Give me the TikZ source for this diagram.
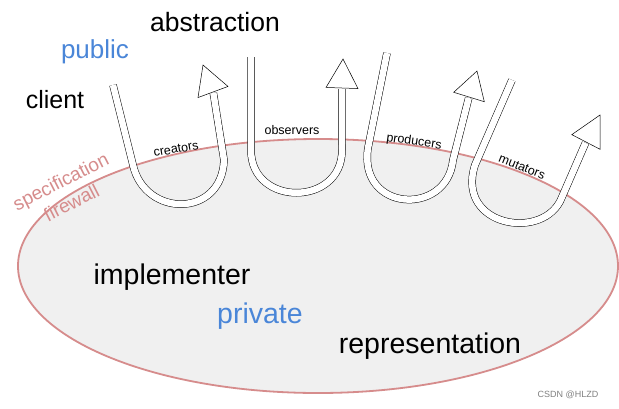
\documentclass[tikz,border=0pt]{standalone}
\usepackage{fontspec}
\setmainfont{Liberation Sans}
\usetikzlibrary{calc}
\definecolor{fw}{RGB}{214,140,140}
\definecolor{pub}{RGB}{74,134,216}
\begin{document}
\begin{tikzpicture}[x=1pt,y=-1pt,
  shaft/.style={draw=black,line width=0.5pt,double=white,double distance=6.5pt},
  head/.style={draw=black,line width=0.5pt,fill=white},
  lbl/.style={font=\fontsize{12.5}{14}\selectfont,inner sep=0pt}]
\useasboundingbox (0,0) rectangle (619,408);
\fill[white] (0,0) rectangle (619,408);
\draw[fw,line width=1.8pt,fill={rgb,255:red,240;green,240;blue,240}] (318,266) ellipse [x radius=300, y radius=127];
\newcommand{\uarrow}[3]{%
  \coordinate (B) at #2; \coordinate (T) at #3;
  \draw[head] (T) -- ($(B)!16pt!90:(T)$) -- ($(B)!16pt!-90:(T)$) -- cycle;
  \draw[shaft] #1 -- ($(B)!-1pt!(T)$);
}
\uarrow{(113,85) -- (133,165) .. controls (145,218) and (222,218) .. (224,160)}{(213,92)}{(203,65)}
\uarrow{(251,57) -- (251,150) .. controls (251,207) and (342,207) .. (342,150)}{(342,88)}{(343,59)}
\uarrow{(387,53) -- (368,148) .. controls (358,212) and (447,217) .. (453,160)}{(469,97)}{(477,71)}
\uarrow{(512,80) -- (475,165) .. controls (455,227) and (545,242) .. (562,197)}{(586,142)}{(600,115)}
\node[lbl,rotate=10] (c) at (176,149) {creators};
\node[lbl] (o) at (292,130) {observers};
\node[lbl,rotate=-8] (p) at (414,142) {producers};
\node[lbl,rotate=-22] (m) at (522,167) {mutators};
\node (abs) at (215,22) {\fontsize{26.5}{30}\selectfont abstraction};
\node[text=pub] (pu) at (95,52) {\fontsize{26}{30}\selectfont public};
\node (cl) at (55,100) {\fontsize{25}{30}\selectfont client};
\node[text=fw,rotate=27,align=center,font=\fontsize{19}{24}\selectfont] (sf) at (66,192) {specification\\firewall};
\node (im) at (172,277) {\fontsize{28.5}{32}\selectfont implementer};
\node[text=pub] (pr) at (260,316) {\fontsize{28.5}{32}\selectfont private};
\node (re) at (430,346) {\fontsize{28.5}{32}\selectfont representation};
\node[text=gray,font=\fontsize{9}{10}\selectfont] (cs) at (568,395) {CSDN @HLZD};
\end{tikzpicture}
\end{document}
